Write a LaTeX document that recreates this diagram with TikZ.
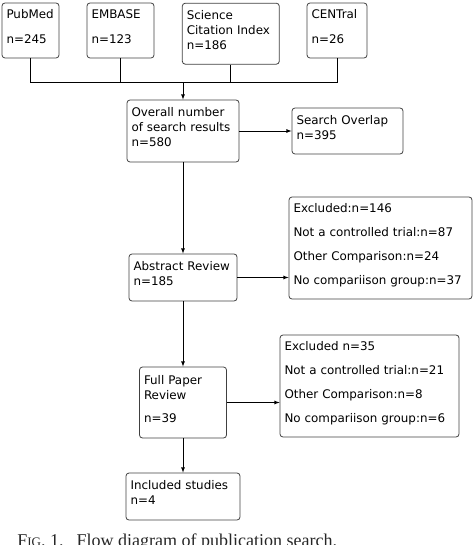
\documentclass[tikz,border=0pt]{standalone}
\usepackage{fontspec}
\setmainfont{DejaVu Sans}
\newfontfamily\capfont{Liberation Serif}
\usetikzlibrary{positioning, arrows}
\newcommand{\bpad}{\rule[-8pt]{0pt}{8pt}}

\begin{document}
\begin{tikzpicture}[x=1pt, y=-1pt, >=latex, line width=0.8pt,
    box/.style={draw=black!75, rounded corners=3pt, align=left, inner sep=4.5pt,
        text=black, font=\fontsize{11.9}{15}\selectfont}]
                \useasboundingbox (0, 0) rectangle (474, 545);

                \node[box, text width=48pt, minimum height=55pt] (pub) at (30.5, 30.5) {PubMed\\[10pt]n=245\bpad};
                \node[box, text width=58pt, minimum height=55pt] (emb) at (120.5, 30.5) {EMBASE\\[10pt]n=123\bpad};
                \node[box, text width=88pt, minimum height=61pt] (sci) at (230.8, 33.7) {Science\\Citation Index\\n=186\bpad};
                \node[box, text width=51pt, minimum height=55pt] (cen) at (337, 30.5) {CENTral\\[10pt]n=26\bpad};
                \coordinate (jn) at (183, 82.3);

                \node[box, text width=103pt, minimum height=62pt] (ovr) at (183, 131) {Overall number\\of search results\\n=580\bpad};
                \node[box, text width=102pt, minimum height=46pt] (ovl) at (347.5, 131) {Search Overlap\\n=395\bpad};
                \node[box, text width=99pt, minimum height=47pt] (abs) at (183, 277.5) {Abstract Review\\n=185\bpad};
                \node[box, text width=174pt, minimum height=102pt] (exa) at (380.5, 248) {Excluded:n=146\\[9pt]Not a controlled trial:n=87\\[9pt]Other Comparison:n=24\\[9pt]No compariison group:n=37\bpad};
                \node[box, text width=78pt, minimum height=71pt] (ful) at (183, 402.5) {Full Paper\\Review\\[8pt]n=39\bpad};
                \node[box, text width=170pt, minimum height=102pt] (exb) at (369.5, 386) {Excluded n=35\\[9pt]Not a controlled trial:n=21\\[9pt]Other Comparison:n=8\\[9pt]No compariison group:n=6\bpad};
                \node[box, text width=105pt, minimum height=47pt] (inc) at (183, 496.5) {Included studies\\n=4\bpad};

                \node[anchor=base west, inner sep=0pt, text=black!85, font=\capfont\fontsize{18}{18}\selectfont] (cap) at (17, 546)
                    {F{\fontsize{13}{13}\selectfont IG}. 1.\hspace{13pt}Flow diagram of publication search.};

                \draw (pub.south) |- (cen.south |- jn) -- (cen.south);
                \draw (emb.south) -- (emb.south |- jn);
                \draw (sci.south) -- (sci.south |- jn);
                \draw[->] (jn) -- (ovr);
                \draw[->] (ovr) -- (ovl);
                \draw[->] (ovr) -- (abs);
                \draw[->] (abs.east) -- (abs.east -| exa.west);
                \draw[->] (abs) -- (ful);
                \draw[->] (ful.east) -- (ful.east -| exb.west);
                \draw[->] (ful) -- (inc);
            \end{tikzpicture}
\end{document}
